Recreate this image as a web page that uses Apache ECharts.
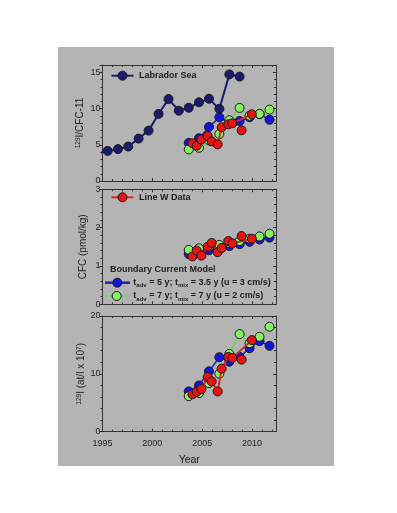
<!DOCTYPE html>
<html><head><meta charset="utf-8">
<script src="https://cdn.jsdelivr.net/npm/echarts@6/dist/echarts.min.js"></script>
<style>html,body{margin:0;padding:0;background:#fff}#c{width:397px;height:513px}</style>
</head><body><div id="c"></div>
<script>
// ---------- data ----------
const labYears = [1994.5, 1995.52, 1996.55, 1997.58, 1998.62, 1999.62, 2000.62, 2001.62, 2002.65, 2003.65, 2004.68, 2005.68, 2006.72, 2007.72, 2008.75];
const labRatio = [3.8, 4.15, 4.4, 4.75, 5.85, 6.95, 9.25, 11.3, 9.7, 10.1, 10.85, 11.35, 9.95, 14.7, 14.4];

const modelYears = [2003.65, 2004.68, 2005.68, 2006.72, 2007.72, 2008.75, 2009.75, 2010.75, 2011.75];
const m1Ratio = [5.25, 5.9, 7.45, 8.78, 8.0, 8.28, 8.8, 9.22, 8.45];
const m1CFC   = [1.31, 1.36, 1.41, 1.47, 1.52, 1.57, 1.63, 1.69, 1.74];
const m1I129  = [6.96, 8.0, 10.43, 12.87, 12.1, 12.93, 14.43, 15.65, 14.84];
const m2Ratio = [4.35, 4.58, 5.6, 6.48, 8.38, 10.08, 9.0, 9.25, 9.85];
const m2CFC   = [1.42, 1.46, 1.50, 1.55, 1.60, 1.65, 1.71, 1.77, 1.84];
const m2I129  = [6.14, 6.67, 8.4, 10.03, 13.45, 16.87, 15.3, 16.4, 18.14];

const lwYears = [2004.02, 2004.45, 2004.92, 2005.55, 2005.95, 2006.55, 2006.95, 2007.62, 2008.02, 2009.98];
const lwRatio = [5.19, 4.86, 5.74, 6.2, 5.46, 5.05, 7.41, 7.82, 7.96, 9.2];
const lwCFC   = [1.25, 1.40, 1.27, 1.50, 1.60, 1.36, 1.47, 1.65, 1.59, 1.71];
const lwI129  = [6.49, 6.9, 7.36, 9.45, 8.7, 6.96, 10.9, 12.93, 12.75, 15.83];
// separate (unconnected) Line W sample
const lwExtraYear  = [2008.95];
const lwExtraRatio = [6.99];
const lwExtraCFC   = [1.78];
const lwExtraI129  = [12.46];

const xTicks = [1995, 2000, 2005, 2010];
const yNames = ['{s|129}{n|I/CFC-11}', '{n|CFC (pmol/kg)}', '{s|129}{n|I (at/l x 10}{s|7}{n|)}'];

// ---------- layout ----------
const FONT = 'Liberation Sans, Arial, Helvetica, sans-serif';
const grids = [
  {left: 102.5, top: 65, width: 173.5, height: 116},
  {left: 102.5, top: 189.3, width: 173.5, height: 115},
  {left: 102.5, top: 316, width: 173.5, height: 115.7}
];
const yCfg = [
  {min: 0, max: 16, interval: 5, minor: 1, gap: 16},
  {min: 0, max: 3, interval: 1, minor: 0.2, gap: 13},
  {min: 0, max: 20, interval: 10, minor: 2, gap: 14.5}
];
const XMIN = 1995, XMAX = 2012.4;
const AX = '#333333';

const xAxis = [], yAxis = [];
grids.forEach((g, gi) => {
  const last = gi === 2;
  ['bottom', 'top'].forEach(pos => {
    xAxis.push({
      type: 'value', gridIndex: gi, position: pos, min: XMIN, max: XMAX, interval: 5,
      axisLine: {show: true, onZero: false, lineStyle: {color: AX, width: 1}},
      axisTick: {show: true, inside: true, length: 3, lineStyle: {color: AX}},
      splitLine: {show: false},
      axisLabel: {show: last && pos === 'bottom', fontSize: 9, color: '#222', fontFamily: FONT, margin: 7,
        formatter: v => (xTicks.indexOf(v) >= 0 ? String(v) : '')},
      name: (last && pos === 'bottom') ? 'Year' : '',
      nameLocation: 'middle', nameGap: 23,
      nameTextStyle: {fontSize: 10.5, color: '#222', fontFamily: FONT}
    });
    xAxis.push({
      type: 'value', gridIndex: gi, position: pos, min: XMIN, max: XMAX, interval: 1,
      axisLine: {show: false, onZero: false},
      axisTick: {show: true, inside: true, length: 2, lineStyle: {color: AX}},
      splitLine: {show: false}, axisLabel: {show: false}
    });
  });
  const c = yCfg[gi];
  ['left', 'right'].forEach(pos => {
    const isL = pos === 'left';
    yAxis.push({
      type: 'value', gridIndex: gi, position: pos, min: c.min, max: c.max, interval: c.interval,
      axisLine: {show: true, onZero: false, lineStyle: {color: AX, width: 1}},
      axisTick: {show: true, inside: !isL, length: 3, lineStyle: {color: AX}},
      splitLine: {show: false},
      axisLabel: {show: isL, fontSize: 9, color: '#222', fontFamily: FONT, margin: 2,
        formatter: v => (Math.abs(v / c.interval - Math.round(v / c.interval)) < 1e-9 ? String(v) : '')},
      name: isL ? yNames[gi] : '',
      nameLocation: 'middle', nameGap: c.gap, nameRotate: 90,
      nameTextStyle: {fontFamily: FONT, color: '#222',
        rich: {n: {fontSize: 10, lineHeight: 12, color: '#222', fontFamily: FONT},
               s: {fontSize: 6.5, lineHeight: 12, verticalAlign: 'top', color: '#222', fontFamily: FONT}}}
    });
    yAxis.push({
      type: 'value', gridIndex: gi, position: pos, min: c.min, max: c.max, interval: c.minor,
      axisLine: {show: false, onZero: false},
      axisTick: {show: true, inside: !isL, length: 2, lineStyle: {color: AX}},
      splitLine: {show: false}, axisLabel: {show: false}
    });
  });
});

const pts = (xs, ys) => xs.map((x, i) => [x, ys[i]]);
const NAVY = '#1b1b6e', BLUE_L = '#2222b0', BLUE_F = '#1414e0', GREEN_L = '#5ad845', GREEN_F = '#84f262', RED_L = '#e02424', RED_F = '#e81414';

function lineS(name, gi, data, lc, fc, lw, z) {
  return {type: 'line', name, xAxisIndex: 4 * gi, yAxisIndex: 4 * gi, data, clip: true,
    symbol: 'circle', symbolSize: 9, showSymbol: true, z,
    lineStyle: {color: lc, width: lw}, itemStyle: {color: fc, borderColor: '#1a1a1a', borderWidth: 1},
    emphasis: {disabled: true}, animation: false};
}
function dotS(name, gi, data, fc, z) {
  return {type: 'scatter', name, xAxisIndex: 4 * gi, yAxisIndex: 4 * gi, data, clip: true,
    symbol: 'circle', symbolSize: 9, z,
    itemStyle: {color: fc, borderColor: '#1a1a1a', borderWidth: 1, opacity: 1},
    emphasis: {disabled: true}, animation: false};
}

const series = [
  lineS('Labrador Sea', 0, pts(labYears, labRatio), NAVY, NAVY, 2, 2),
  lineS('Model 1', 0, pts(modelYears, m1Ratio), BLUE_L, BLUE_F, 1.5, 3),
  lineS('Model 2', 0, pts(modelYears, m2Ratio), GREEN_L, GREEN_F, 1.2, 4),
  lineS('Line W Data', 0, pts(lwYears, lwRatio), RED_L, RED_F, 2, 5),
  dotS('Line W Data', 0, pts(lwExtraYear, lwExtraRatio), RED_F, 5),

  lineS('Model 1', 1, pts(modelYears, m1CFC), BLUE_L, BLUE_F, 1.5, 3),
  lineS('Model 2', 1, pts(modelYears, m2CFC), GREEN_L, GREEN_F, 1.2, 4),
  lineS('Line W Data', 1, pts(lwYears, lwCFC), RED_L, RED_F, 2, 5),
  dotS('Line W Data', 1, pts(lwExtraYear, lwExtraCFC), RED_F, 5),

  lineS('Model 1', 2, pts(modelYears, m1I129), BLUE_L, BLUE_F, 1.5, 3),
  lineS('Model 2', 2, pts(modelYears, m2I129), GREEN_L, GREEN_F, 1.2, 4),
  lineS('Line W Data', 2, pts(lwYears, lwI129), RED_L, RED_F, 2, 5),
  dotS('Line W Data', 2, pts(lwExtraYear, lwExtraI129), RED_F, 5)
];

const bold = {fontSize: 9, fontWeight: 'bold', fontFamily: FONT, fill: '#1e1e1e'};
function legendItem(x1, x2, cx, y, lc, fc, lw) {
  return [
    {type: 'line', shape: {x1, y1: y, x2, y2: y}, style: {stroke: lc, lineWidth: lw}, z: 50},
    {type: 'circle', shape: {cx, cy: y, r: 4.5}, style: {fill: fc, stroke: '#1a1a1a', lineWidth: 1}, z: 51}
  ];
}
const richSub = {
  b: {fontSize: 9, fontWeight: 'bold', fontFamily: FONT, lineHeight: 12, verticalAlign: 'middle'},
  u: {fontSize: 6, fontWeight: 'bold', fontFamily: FONT, lineHeight: 12, verticalAlign: 'bottom', padding: [3, 0, 0, 0]}
};
const graphic = [
  {type: 'rect', shape: {x: 58, y: 47, width: 276, height: 419}, style: {fill: '#b4b4b4'}, z: -10, silent: true},
  ...legendItem(111.5, 133.5, 122.5, 75.7, NAVY, NAVY, 2),
  {type: 'text', x: 139, y: 75.7, style: Object.assign({text: 'Labrador Sea', verticalAlign: 'middle'}, bold), z: 50},
  ...legendItem(111.5, 133.5, 122.5, 197.3, RED_L, RED_F, 2),
  {type: 'text', x: 139, y: 197.3, style: Object.assign({text: 'Line W Data', verticalAlign: 'middle'}, bold), z: 50},
  {type: 'text', x: 110, y: 270, style: Object.assign({text: 'Boundary Current Model', verticalAlign: 'middle'}, bold), z: 50},
  ...legendItem(105, 130, 117.3, 282.7, BLUE_L, BLUE_F, 2.5),
  {type: 'text', x: 133.3, y: 282.7, z: 50, style: {text: '{b|t}{u|adv}{b| = 5 y; t}{u|mix}{b| = 3.5 y (u = 3 cm/s)}', rich: richSub, verticalAlign: 'middle', fill: '#1e1e1e'}},
  ...legendItem(105, 130, 116.7, 296, GREEN_L, GREEN_F, 1),
  {type: 'text', x: 133.3, y: 296, z: 50, style: {text: '{b|t}{u|adv}{b| = 7 y; t}{u|mix}{b| = 7 y (u = 2 cm/s)}', rich: richSub, verticalAlign: 'middle', fill: '#1e1e1e'}}
];

const chart = echarts.init(document.getElementById('c'), null, {renderer: 'canvas'});
chart.setOption({
  backgroundColor: '#ffffff',
  animation: false,
  grid: grids.map(g => Object.assign({containLabel: false}, g)),
  xAxis, yAxis, series, graphic
});
</script></body></html>
